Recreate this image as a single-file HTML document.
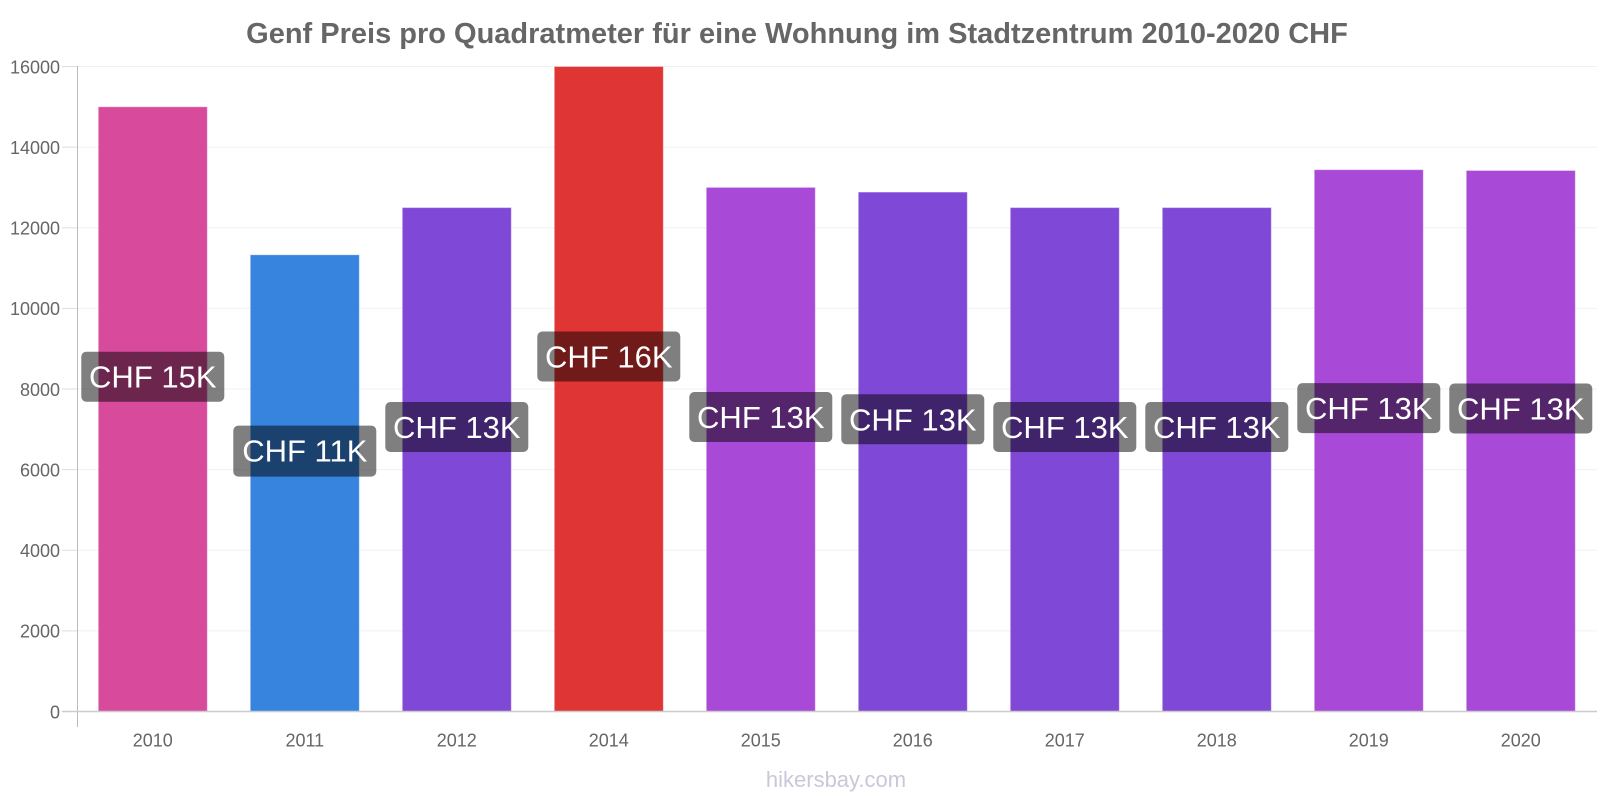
<!DOCTYPE html>
<html>
<head>
<meta charset="utf-8">
<style>
  html, body { margin:0; padding:0; background:#ffffff; }
  svg { display:block; }
  text { font-family: "Liberation Sans", "DejaVu Sans", sans-serif; }
</style>
</head>
<body>
<svg width="1600" height="800" viewBox="0 0 1600 800" xmlns="http://www.w3.org/2000/svg">
  <rect width="1600" height="800" fill="#ffffff"/>

  <!-- Title -->
  <text x="797" y="43" text-anchor="middle" font-size="29" font-weight="bold" fill="#666666">Genf Preis pro Quadratmeter für eine Wohnung im Stadtzentrum 2010-2020 CHF</text>

  <!-- gridlines -->
  <g stroke="#f0f0f0" stroke-width="1">
    <line x1="78" y1="66.5" x2="1597" y2="66.5"/>
    <line x1="78" y1="147.1" x2="1597" y2="147.1"/>
    <line x1="78" y1="227.8" x2="1597" y2="227.8"/>
    <line x1="78" y1="308.4" x2="1597" y2="308.4"/>
    <line x1="78" y1="389" x2="1597" y2="389"/>
    <line x1="78" y1="469.6" x2="1597" y2="469.6"/>
    <line x1="78" y1="550.3" x2="1597" y2="550.3"/>
    <line x1="78" y1="630.9" x2="1597" y2="630.9"/>
  </g>
  <!-- y ticks -->
  <g stroke="#dddddd" stroke-width="1">
    <line x1="62" y1="66.5" x2="77" y2="66.5"/>
    <line x1="62" y1="147.1" x2="77" y2="147.1"/>
    <line x1="62" y1="227.8" x2="77" y2="227.8"/>
    <line x1="62" y1="308.4" x2="77" y2="308.4"/>
    <line x1="62" y1="389" x2="77" y2="389"/>
    <line x1="62" y1="469.6" x2="77" y2="469.6"/>
    <line x1="62" y1="550.3" x2="77" y2="550.3"/>
    <line x1="62" y1="630.9" x2="77" y2="630.9"/>
  </g>

  <!-- y labels -->
  <g font-size="18" fill="#666666" text-anchor="end">
    <text x="60" y="73.3">16000</text>
    <text x="60" y="153.9">14000</text>
    <text x="60" y="234.6">12000</text>
    <text x="60" y="315.2">10000</text>
    <text x="60" y="395.8">8000</text>
    <text x="60" y="476.4">6000</text>
    <text x="60" y="557.1">4000</text>
    <text x="60" y="637.7">2000</text>
    <text x="60" y="718.3">0</text>
  </g>

  <!-- bars -->
  <g stroke-width="1" stroke="rgba(255,255,255,0.35)">
    <rect x="98.3"  y="106.8" width="109" height="604.7" fill="#d84a9b"/>
    <rect x="250.3" y="254.8" width="109" height="456.7" fill="#3684de"/>
    <rect x="402.3" y="207.6" width="109" height="503.9" fill="#8048d6"/>
    <rect x="554.3" y="66.5"  width="109" height="645"   fill="#e03535"/>
    <rect x="706.3" y="187.4" width="109" height="524.1" fill="#a84ad7"/>
    <rect x="858.3" y="192.1" width="109" height="519.4" fill="#8048d6"/>
    <rect x="1010.3" y="207.6" width="109" height="503.9" fill="#8048d6"/>
    <rect x="1162.3" y="207.6" width="109" height="503.9" fill="#8048d6"/>
    <rect x="1314.3" y="169.7" width="109" height="541.8" fill="#a84ad7"/>
    <rect x="1466.3" y="170.5" width="109" height="541"   fill="#a84ad7"/>
  </g>

  <!-- axes -->
  <line x1="77.5" y1="66" x2="77.5" y2="727" stroke="#bbbbbb" stroke-width="1"/>
  <line x1="62" y1="711.5" x2="1597" y2="711.5" stroke="#cccccc" stroke-width="1.5"/>

  <!-- x labels -->
  <g font-size="18" fill="#666666" text-anchor="middle">
    <text x="152.8" y="746.5">2010</text>
    <text x="304.8" y="746.5">2011</text>
    <text x="456.8" y="746.5">2012</text>
    <text x="608.8" y="746.5">2014</text>
    <text x="760.8" y="746.5">2015</text>
    <text x="912.8" y="746.5">2016</text>
    <text x="1064.8" y="746.5">2017</text>
    <text x="1216.8" y="746.5">2018</text>
    <text x="1368.8" y="746.5">2019</text>
    <text x="1520.8" y="746.5">2020</text>
  </g>

  <!-- value labels -->
  <g fill="rgba(0,0,0,0.5)">
    <rect x="81.3"   y="351.7" width="143" height="50" rx="5"/>
    <rect x="233.3"  y="425.6" width="143" height="51" rx="5"/>
    <rect x="385.3"  y="402"   width="143" height="50" rx="5"/>
    <rect x="537.3"  y="331.5" width="143" height="50" rx="5"/>
    <rect x="689.3"  y="392"   width="143" height="50" rx="5"/>
    <rect x="841.3"  y="394.3" width="143" height="50" rx="5"/>
    <rect x="993.3"  y="402"   width="143" height="50" rx="5"/>
    <rect x="1145.3" y="402"   width="143" height="50" rx="5"/>
    <rect x="1297.3" y="383.1" width="143" height="50" rx="5"/>
    <rect x="1449.3" y="383.5" width="143" height="50" rx="5"/>
  </g>
  <g font-size="31" fill="#ffffff" text-anchor="middle">
    <text x="152.8" y="387.7">CHF 15K</text>
    <text x="304.8" y="461.6">CHF 11K</text>
    <text x="456.8" y="438">CHF 13K</text>
    <text x="608.8" y="367.5">CHF 16K</text>
    <text x="760.8" y="428">CHF 13K</text>
    <text x="912.8" y="430.3">CHF 13K</text>
    <text x="1064.8" y="438">CHF 13K</text>
    <text x="1216.8" y="438">CHF 13K</text>
    <text x="1368.8" y="419.1">CHF 13K</text>
    <text x="1520.8" y="419.5">CHF 13K</text>
  </g>

  <!-- watermark -->
  <text x="836" y="787" text-anchor="middle" font-size="22" fill="#c8c8d8">hikersbay.com</text>
</svg>
</body>
</html>
